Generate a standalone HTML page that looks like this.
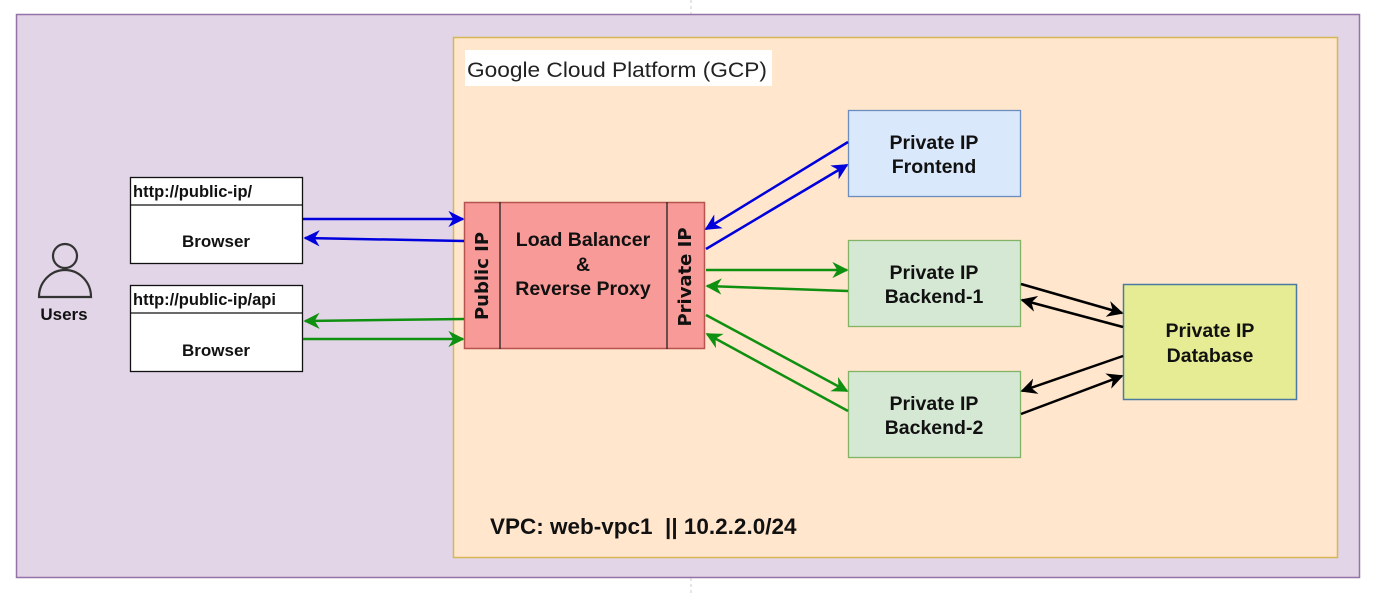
<!DOCTYPE html>
<html><head><meta charset="utf-8"><style>
html,body{margin:0;padding:0;background:#fff;}
svg{display:block;font-family:"Liberation Sans",Arial,sans-serif;}
.b{font-weight:bold;font-size:19.5px;fill:#111;text-anchor:middle;}
</style></head><body>
<svg width="1376" height="593" viewBox="0 0 1376 593" xmlns="http://www.w3.org/2000/svg">
<defs>
<marker id="ab" viewBox="0 0 10 10" refX="9" refY="5" markerWidth="6.5" markerHeight="6.5" orient="auto" markerUnits="strokeWidth"><path d="M0,0 L10,5 L0,10 L3,5 z" fill="#0000dd"/></marker>
<marker id="ag" viewBox="0 0 10 10" refX="9" refY="5" markerWidth="6.5" markerHeight="6.5" orient="auto" markerUnits="strokeWidth"><path d="M0,0 L10,5 L0,10 L3,5 z" fill="#109010"/></marker>
<marker id="ak" viewBox="0 0 10 10" refX="9" refY="5" markerWidth="6.5" markerHeight="6.5" orient="auto" markerUnits="strokeWidth"><path d="M0,0 L10,5 L0,10 L3,5 z" fill="#000"/></marker>
</defs>
<line x1="691" y1="0" x2="691" y2="14" stroke="#ccc" stroke-dasharray="3,3"/>
<line x1="691" y1="578" x2="691" y2="593" stroke="#ccc" stroke-dasharray="3,3"/>
<rect x="16.5" y="14.5" width="1343" height="563" fill="#e1d5e7" stroke="#9673a6" stroke-width="1.5"/>
<rect x="453.5" y="37.5" width="884" height="520" fill="#ffe6cc" stroke="#d6b656" stroke-width="1.5"/>
<rect x="465" y="50" width="307" height="36" fill="#fff"/>
<text x="467" y="77" font-size="21" fill="#222" textLength="300" lengthAdjust="spacingAndGlyphs">Google Cloud Platform (GCP)</text>
<!-- user -->
<circle cx="65" cy="256" r="12" fill="none" stroke="#333" stroke-width="2.2"/>
<path d="M39,297 A26,27 0 0 1 91,297 Z" fill="none" stroke="#333" stroke-width="2.2"/>
<text x="64" y="320" font-size="17" font-weight="bold" text-anchor="middle" fill="#111">Users</text>
<!-- browsers -->
<rect x="130.5" y="177.5" width="172" height="86" fill="#fff" stroke="#111" stroke-width="1.3"/>
<line x1="130" y1="205" x2="303" y2="205" stroke="#111" stroke-width="1.3"/>
<text x="133" y="197" font-size="16.5" font-weight="bold" fill="#111">http://public-ip/</text>
<text x="216" y="247" font-size="17" font-weight="bold" text-anchor="middle" fill="#111">Browser</text>
<rect x="130.5" y="285.5" width="172" height="86" fill="#fff" stroke="#111" stroke-width="1.3"/>
<line x1="130" y1="313" x2="303" y2="313" stroke="#111" stroke-width="1.3"/>
<text x="133" y="305" font-size="16.5" font-weight="bold" fill="#111">http://public-ip/api</text>
<text x="216" y="356" font-size="17" font-weight="bold" text-anchor="middle" fill="#111">Browser</text>
<!-- LB -->
<rect x="464.5" y="202.5" width="240" height="146" fill="#f89a98" stroke="#b85450" stroke-width="1.5"/>
<line x1="500" y1="202" x2="500" y2="349" stroke="#222" stroke-width="1.3"/>
<line x1="667" y1="202" x2="667" y2="349" stroke="#222" stroke-width="1.3"/>
<text class="b" x="583" y="246">Load Balancer</text>
<text class="b" x="583" y="271">&amp;</text>
<text class="b" x="583" y="295">Reverse Proxy</text>
<text class="b" transform="translate(488,276) rotate(-90)" style="font-family:'DejaVu Sans',sans-serif;font-size:18px">Public IP</text>
<text class="b" transform="translate(691,277) rotate(-90)" style="font-family:'DejaVu Sans',sans-serif;font-size:18px">Private IP</text>
<!-- nodes -->
<rect x="848.5" y="110.5" width="172" height="86" fill="#dae8fc" stroke="#6c8ebf" stroke-width="1.3"/>
<text class="b" x="934" y="149">Private IP</text><text class="b" x="934" y="173">Frontend</text>
<rect x="848.5" y="240.5" width="172" height="86" fill="#d5e8d4" stroke="#82b366" stroke-width="1.3"/>
<text class="b" x="934" y="279">Private IP</text><text class="b" x="934" y="303">Backend-1</text>
<rect x="848.5" y="371.5" width="172" height="86" fill="#d5e8d4" stroke="#82b366" stroke-width="1.3"/>
<text class="b" x="934" y="410">Private IP</text><text class="b" x="934" y="434">Backend-2</text>
<rect x="1123.5" y="284.5" width="173" height="115" fill="#e6ec93" stroke="#4a7aa0" stroke-width="1.5"/>
<text class="b" x="1210" y="337">Private IP</text><text class="b" x="1210" y="362">Database</text>
<!-- arrows -->
<g stroke-width="2.5" fill="none">
<line x1="303" y1="219" x2="463" y2="219" stroke="#0000dd" marker-end="url(#ab)"/>
<line x1="464" y1="241" x2="305" y2="238" stroke="#0000dd" marker-end="url(#ab)"/>
<line x1="464" y1="319" x2="305" y2="321" stroke="#109010" marker-end="url(#ag)"/>
<line x1="303" y1="339" x2="463" y2="339" stroke="#109010" marker-end="url(#ag)"/>
<line x1="848" y1="142" x2="706" y2="229" stroke="#0000dd" marker-end="url(#ab)"/>
<line x1="706" y1="249" x2="847" y2="165" stroke="#0000dd" marker-end="url(#ab)"/>
<line x1="706" y1="270" x2="847" y2="270" stroke="#109010" marker-end="url(#ag)"/>
<line x1="848" y1="291" x2="707" y2="286" stroke="#109010" marker-end="url(#ag)"/>
<line x1="706" y1="315" x2="847" y2="391" stroke="#109010" marker-end="url(#ag)"/>
<line x1="848" y1="411" x2="707" y2="334" stroke="#109010" marker-end="url(#ag)"/>
<line x1="1021" y1="284" x2="1122" y2="313" stroke="#000" marker-end="url(#ak)"/>
<line x1="1123" y1="327" x2="1022" y2="300" stroke="#000" marker-end="url(#ak)"/>
<line x1="1123" y1="356" x2="1022" y2="391" stroke="#000" marker-end="url(#ak)"/>
<line x1="1021" y1="414" x2="1122" y2="376" stroke="#000" marker-end="url(#ak)"/>
</g>
<text x="490" y="534" font-size="22.5" font-weight="bold" fill="#111" xml:space="preserve">VPC: web-vpc1  || 10.2.2.0/24</text>
</svg>
</body></html>
